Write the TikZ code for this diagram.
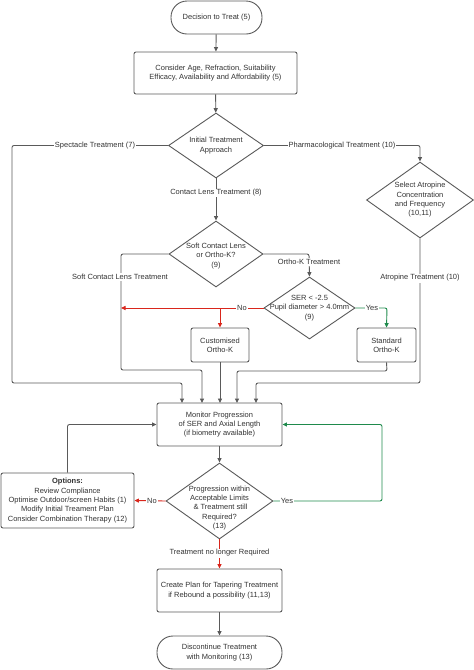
\documentclass[tikz,border=0pt]{standalone}
\usepackage{fontspec}
\setmainfont{Liberation Sans}
\usetikzlibrary{arrows.meta,shapes.geometric}
\definecolor{linec}{HTML}{5A5A5A}
\definecolor{txtc}{HTML}{333333}
\definecolor{redc}{HTML}{D9261C}
\definecolor{greenc}{HTML}{1F8A4C}
\tikzset{
  txt/.style={text=txtc, align=center, font=\fontsize{7.5}{9.3}\selectfont, inner sep=0pt},
  box/.style={txt, draw=linec, line width=0.9pt, rounded corners=2pt, fill=white},
  term/.style={txt, draw=linec, line width=0.9pt, rounded corners=16pt, fill=white},
  dia/.style={diamond, draw=linec, line width=0.9pt, inner sep=0pt, fill=white},
  lab/.style={txt, fill=white, inner sep=1pt},
  conn/.style={draw=linec, line width=0.9pt, rounded corners=2pt},
  arr/.style={conn, -{Triangle[length=4.5pt,width=4pt]}},
  redarr/.style={arr, draw=redc, -{Triangle[length=4.5pt,width=4pt,fill=redc]}},
  greenarr/.style={arr, draw=greenc, -{Triangle[length=4.5pt,width=4pt,fill=greenc]}},
}
\begin{document}
\begin{tikzpicture}[x=1pt,y=-1pt]
\useasboundingbox (0,0) rectangle (474,670);
% nodes
\node[term, minimum width=91pt, minimum height=33pt] (dec) at (216.5,17.5) {Decision to Treat (5)};
\node[box, minimum width=163pt, minimum height=42pt] (cons) at (215.5,73) {Consider Age, Refraction, Suitability\\Efficacy, Availability and Affordability (5)};
\node[dia, minimum width=95pt, minimum height=65pt, label={[txt]center:{Initial Treatment\\Approach}}] (init) at (216,145.5) {};
\node[dia, minimum width=107pt, minimum height=76pt, label={[txt]center:{Select Atropine\\Concentration\\and Frequency\\(10,11)}}] (atro) at (420,200) {};
\node[dia, minimum width=94pt, minimum height=66pt, label={[txt,yshift=-2pt]center:{Soft Contact Lens\\or Ortho-K?\\(9)}}] (soft) at (216,254) {};
\node[dia, minimum width=91pt, minimum height=62pt, label={[txt]center:{SER < -2.5\\Pupil diameter > 4.0mm\\(9)}}] (ser) at (309.5,308) {};
\node[box, minimum width=58pt, minimum height=34pt] (cust) at (220,345) {Customised\\Ortho-K};
\node[box, minimum width=59pt, minimum height=34pt] (std) at (386.5,345) {Standard\\Ortho-K};
\node[box, minimum width=125pt, minimum height=43pt] (mon) at (219.5,424.5) {Monitor Progression\\of SER and Axial Length\\(if biometry available)};
\node[dia, minimum width=107pt, minimum height=76pt, label={[txt,yshift=-7pt]center:{Progression within\\Acceptable Limits\\\ \& Treatment still\\Required?\\(13)}}] (prog) at (219.5,501) {};
\node[box, minimum width=133pt, minimum height=55pt] (opt) at (67.5,500.5) {\textbf{Options:}\\Review Compliance\\Optimise Outdoor/screen Habits (1)\\Modify Initial Treament Plan\\Consider Combination Therapy (12)};
\node[box, minimum width=125pt, minimum height=43pt] (plan) at (219.5,590.5) {Create Plan for Tapering Treatment\\if Rebound a possibility (11,13)};
\node[term, minimum width=125pt, minimum height=33pt] (disc) at (219.5,652.5) {Discontinue Treatment\\with Monitoring (13)};
% helper coordinates
\coordinate (sp1) at (12,145.5);
\coordinate (sp2) at (12,383);
\coordinate (sp3) at (182,383);
\coordinate (sp4) at (182,403);
\coordinate (ph1) at (420,145.5);
\coordinate (sc1) at (121,254);
\coordinate (sc2) at (121,370);
\coordinate (sc3) at (202,370);
\coordinate (sc4) at (202,403);
\coordinate (ok1) at (309,254);
\coordinate (no1) at (121,308);
\coordinate (no2) at (220,308);
\coordinate (ye1) at (387,308);
\coordinate (cu1) at (220,403);
\coordinate (st1) at (387,371);
\coordinate (st2) at (237,371);
\coordinate (st3) at (237,403);
\coordinate (at1) at (420,383);
\coordinate (at2) at (256,383);
\coordinate (at3) at (256,403);
\coordinate (op1) at (67.5,424.5);
\coordinate (py1) at (382,501);
\coordinate (py2) at (382,424.5);
% connectors
\draw[arr] (dec) -- (cons);
\draw[arr] (cons) -- (init);
\draw[arr] (init.west) -- (sp1) -- (sp2) -- (sp3) -- (sp4);
\node[lab] (lsp) at (95,145.5) {Spectacle Treatment (7)};
\draw[arr] (init.east) -- (ph1) -- (atro.north);
\node[lab] (lph) at (342,145.5) {Pharmacological Treatment (10)};
\draw[arr] (init.south) -- (soft.north);
\node[lab] (lcl) at (216,193) {Contact Lens Treatment (8)};
\draw[arr] (soft.west) -- (sc1) -- (sc2) -- (sc3) -- (sc4);
\node[lab] (lsc) at (120,277) {Soft Contact Lens Treatment};
\draw[arr] (soft.east) -- (ok1) -- (ser.north);
\node[lab] (lok) at (309,262) {Ortho-K Treatment};
\draw[redarr] (ser.west) -- (no1);
\draw[redarr] (no2) -- (cust.north);
\node[lab] (lno) at (242,308) {No};
\draw[greenarr] (ser.east) -- (ye1) -- (std.north);
\node[lab] (lye) at (372,308) {Yes};
\draw[arr] (cust.south) -- (cu1);
\draw[arr] (std.south) -- (st1) -- (st2) -- (st3);
\draw[arr] (atro.south) -- (at1) -- (at2) -- (at3);
\node[lab] (lat) at (420,278) {Atropine Treatment (10)};
\draw[arr] (mon) -- (prog);
\draw[redarr] (prog.west) -- (opt.east);
\node[lab] (lno2) at (152,501) {No};
\draw[arr] (opt.north) -- (op1) -- (mon.west);
\draw[greenarr] (prog.east) -- (py1) -- (py2) -- (mon.east);
\node[lab] (lye2) at (287,501) {Yes};
\draw[redarr] (prog.south) -- (plan.north);
\node[lab] (ltr) at (219.5,553) {Treatment no longer Required};
\draw[arr] (plan) -- (disc);
\end{tikzpicture}
\end{document}
